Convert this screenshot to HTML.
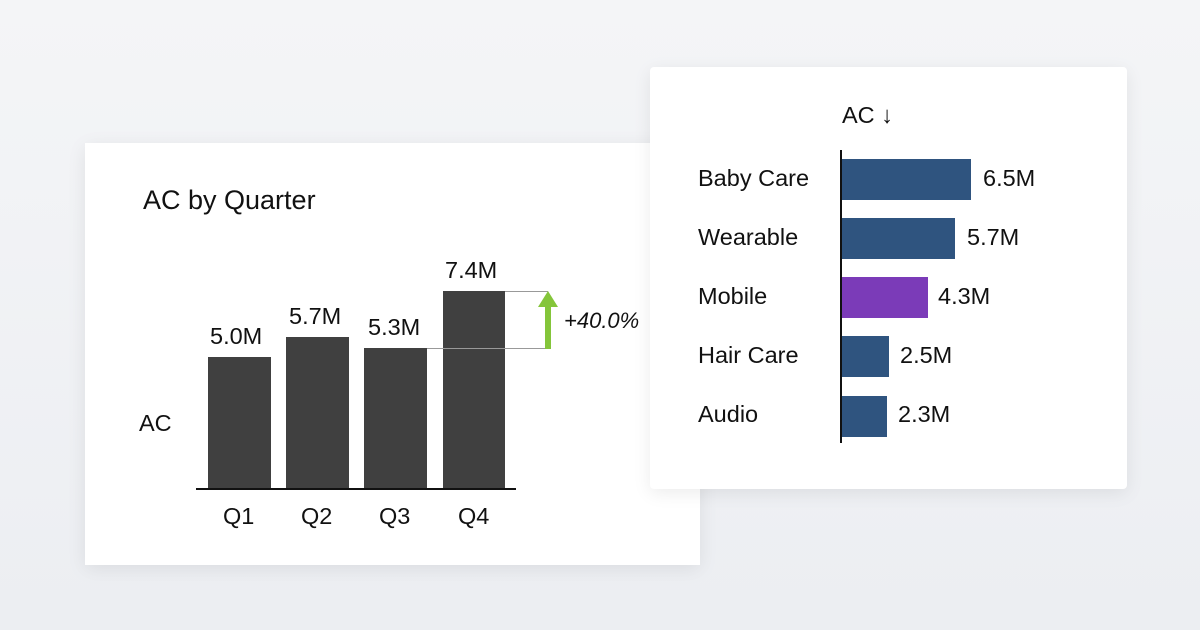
<!DOCTYPE html>
<html><head><style>
body{margin:0;width:1200px;height:630px;overflow:hidden;background:linear-gradient(180deg,#f4f5f7 0%,#eceef2 100%);font-family:"Liberation Sans",sans-serif;position:relative;color:#111}
.card{position:absolute;background:#fff;box-shadow:0 4px 18px rgba(0,0,0,0.08)}
.t{position:absolute;font-size:23.5px;white-space:nowrap}
.b{position:absolute;background:#404040}
.h{position:absolute;background:#2f547f;height:41px;left:842px}
</style></head><body>
<div class="card" style="left:85px;top:143px;width:615px;height:422px"></div>
<div class="card" style="left:650px;top:67px;width:477px;height:422px;border-radius:4px"></div>

<div class="t" style="left:143px;top:185px;font-size:27px">AC by Quarter</div>
<div class="t" style="left:139px;top:410px">AC</div>
<div class="b" style="left:208px;top:357px;width:63px;height:132px"></div>
<div class="b" style="left:286px;top:337px;width:63px;height:152px"></div>
<div class="b" style="left:364px;top:348px;width:63px;height:141px"></div>
<div class="b" style="left:443px;top:291px;width:62px;height:198px"></div>
<div style="position:absolute;left:196px;top:488px;width:320px;height:2px;background:#111"></div>
<div style="position:absolute;left:505px;top:291px;width:43px;height:1px;background:#999"></div>
<div style="position:absolute;left:427px;top:348px;width:121px;height:1px;background:#999"></div>
<div style="position:absolute;left:545px;top:305px;width:6px;height:44px;background:#84c53a"></div>
<div style="position:absolute;left:538px;top:291px;width:0;height:0;border-left:10px solid transparent;border-right:10px solid transparent;border-bottom:16px solid #84c53a"></div>
<div class="t" style="left:210px;top:323px">5.0M</div>
<div class="t" style="left:289px;top:303px">5.7M</div>
<div class="t" style="left:368px;top:314px">5.3M</div>
<div class="t" style="left:445px;top:257px">7.4M</div>
<div class="t" style="left:564px;top:308px;font-style:italic;font-size:22px">+40.0%</div>
<div class="t" style="left:223px;top:503px">Q1</div>
<div class="t" style="left:301px;top:503px">Q2</div>
<div class="t" style="left:379px;top:503px">Q3</div>
<div class="t" style="left:458px;top:503px">Q4</div>

<div class="t" style="left:842px;top:102px">AC ↓</div>
<div style="position:absolute;left:840px;top:150px;width:2px;height:293px;background:#111"></div>
<div class="h" style="top:159px;width:129px"></div>
<div class="h" style="top:218px;width:113px"></div>
<div class="h" style="top:277px;width:86px;background:#7b3bb8"></div>
<div class="h" style="top:336px;width:47px"></div>
<div class="h" style="top:396px;width:45px"></div>
<div class="t" style="left:698px;top:165px">Baby Care</div>
<div class="t" style="left:698px;top:224px">Wearable</div>
<div class="t" style="left:698px;top:283px">Mobile</div>
<div class="t" style="left:698px;top:342px">Hair Care</div>
<div class="t" style="left:698px;top:401px">Audio</div>
<div class="t" style="left:983px;top:165px">6.5M</div>
<div class="t" style="left:967px;top:224px">5.7M</div>
<div class="t" style="left:938px;top:283px">4.3M</div>
<div class="t" style="left:900px;top:342px">2.5M</div>
<div class="t" style="left:898px;top:401px">2.3M</div>
</body></html>
